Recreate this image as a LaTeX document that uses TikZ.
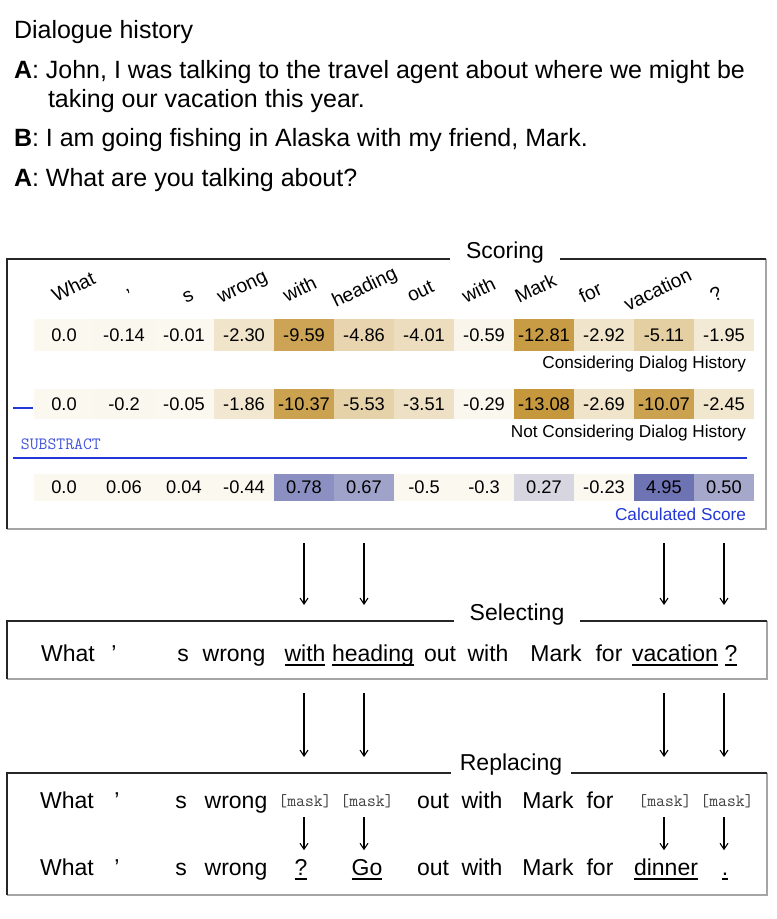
\documentclass[tikz,border=0pt]{standalone}
\usepackage{fontspec}
\setmainfont{Liberation Sans}
\usepackage{tikz}
\usetikzlibrary{arrows.meta}

\definecolor{gold}{RGB}{198,152,62}
\definecolor{cream}{RGB}{251,248,240}
\definecolor{slate}{RGB}{110,115,180}
\definecolor{subblue}{RGB}{35,55,215}
\definecolor{boxgray}{RGB}{165,165,165}

\begin{document}
\begin{tikzpicture}[
                x = 0.75pt,
                y = -0.75pt,
                every node/.style = {inner sep = 0pt, outer sep = 0pt},
                dialog/.style = {anchor = base west, font = \fontsize{18.75}{22}\selectfont},
                title/.style = {fill = white, inner xsep = 12pt, inner ysep = 1pt,
                    font = \fontsize{17.25}{20}\selectfont},
                head/.style = {anchor = base west, rotate = 26, font = \fontsize{14.6}{17}\selectfont},
                cell/.style = {minimum width = 45pt, minimum height = #1,
                    font = \fontsize{13.7}{16}\selectfont},
                cell/.default = 24pt,
                note/.style = {anchor = east, font = \fontsize{12.9}{15}\selectfont},
                word/.style = {anchor = base, text height = 12.6pt, text depth = 3.6pt,
                    font = \fontsize{17.25}{20}\selectfont},
                mask/.style = {anchor = base, text = black!75, text height = 8pt, text depth = 2.5pt,
                    font = \fontsize{12.9}{15}\ttfamily},
                flow/.style = {-{Straight Barb[length = 4.5pt, width = 6pt]}, line width = 0.8pt},
                uline/.style = {line width = 1pt},
                dark/.style = {line width = 1pt, black!85},
                light/.style = {line width = 1pt, boxgray}
            ]
            \path[use as bounding box, fill = white] (0,0) rectangle (776,919);
            %
            % dialogue history
            \node[dialog] (hist) at (14,39) {Dialogue history};
            \node[dialog] (turn1) at (14,79) {\textbf{A}: John, I was talking to the travel agent about where we might be};
            \node[dialog] (turn1b) at (48,108) {taking our vacation this year.};
            \node[dialog] (turn2) at (14,147) {\textbf{B}: I am going fishing in Alaska with my friend, Mark.};
            \node[dialog] (turn3) at (14,187) {\textbf{A}: What are you talking about?};
            %
            % scoring box
            \coordinate (sc-nw) at (7,259);
            \coordinate (sc-se) at (766,529);
            \draw[light] (sc-nw |- sc-se) -- (sc-se) -- (sc-se |- sc-nw);
            \draw[dark] (sc-nw |- sc-se) -- (sc-nw) -- (sc-se |- sc-nw);
            \node[title] (scoring) at (505,253) {Scoring};
            %
            \foreach \w/\x/\y [count=\i] in {What/56/303, ’/131/303, s/186/304, wrong/221/304,
                with/287/303, heading/336/308, out/411/303, with/466/304, Mark/519/304,
                for/583/304, vacation/628/312, ?/714/303}
                \node[head] (h\i) at (\x,\y) {\w};
            %
            \foreach \v/\p [count=\i] in {0.0/0, -0.14/1, -0.01/0, -2.30/21, -9.59/87, -4.86/36,
                -4.01/28, -0.59/3, -12.81/96, -2.92/21, -5.11/43, -1.95/15}
                \node[cell = 24pt, fill = gold!\p!cream] (r1-\i) at (4+60*\i,335) {\v};
            \node[note] (with-hist) at (746,364) {Considering Dialog History};
            %
            \foreach \v/\p [count=\i] in {0.0/0, -0.2/1, -0.05/0, -1.86/17, -10.37/90, -5.53/40,
                -3.51/25, -0.29/1, -13.08/100, -2.69/21, -10.07/90, -2.45/19}
                \node[cell = 22.5pt, fill = gold!\p!cream] (r2-\i) at (4+60*\i,404) {\v};
            \node[note] (no-hist) at (746,433) {Not Considering Dialog History};
            \draw[subblue, line width = 2.2pt] (13,408) -- (33,408);
            %
            \node[anchor = west, text = subblue!85, font = \fontsize{12.9}{15}\ttfamily] (sub) at (21,444) {SUBSTRACT};
            \draw[subblue, line width = 2pt] (13,458) -- (747,458);
            %
            \foreach \v/\p [count=\i] in {0.0/0, 0.06/0, 0.04/0, -0.44/0, 0.78/79, 0.67/65,
                -0.5/0, -0.3/0, 0.27/26, -0.23/0, 4.95/100, 0.50/61}
                \node[cell = 20.25pt, fill = slate!\p!cream] (r3-\i) at (4+60*\i,487.5) {\v};
            \node[note, text = subblue] (calc) at (746,514) {Calculated Score};
            %
            % selecting box
            \coordinate (se-nw) at (7,621);
            \coordinate (se-se) at (767,679);
            \draw[light] (se-nw |- se-se) -- (se-se) -- (se-se |- se-nw);
            \draw[dark] (se-nw |- se-se) -- (se-nw) -- (se-se |- se-nw);
            \node[title] (selecting) at (517,615) {Selecting};
            %
            \foreach \w/\x [count=\i] in {What/68, ’/114, s/183, wrong/234, with/305, heading/373,
                out/440, with/488, Mark/556, for/609, vacation/675, ?/731}
                \node[word] (sel\i) at (\x,661) {\w};
            \foreach \i in {5,6,11,12}
                \draw[uline] ([yshift=-3pt]sel\i.base west) -- ([yshift=-3pt]sel\i.base east);
            %
            % replacing box
            \coordinate (rp-nw) at (7,773);
            \coordinate (rp-se) at (767,895);
            \draw[light] (rp-nw |- rp-se) -- (rp-se) -- (rp-se |- rp-nw);
            \draw[dark] (rp-nw |- rp-se) -- (rp-nw) -- (rp-se |- rp-nw);
            \node[title, inner xsep = 7pt] (replacing) at (511,765) {Replacing};
            %
            \foreach \w/\x [count=\i] in {What/67, ’/117, s/181, wrong/236, out/433, with/482, Mark/548, for/600}
                \node[word] (old\i) at (\x,808) {\w};
            \foreach \x [count=\i] in {305,367,665,727}
                \node[mask] (mask\i) at (\x,806) {[mask]};
            %
            \foreach \w/\x [count=\i] in {What/67, ’/117, s/181, wrong/236, out/433, with/482, Mark/548, for/600}
                \node[word] (keep\i) at (\x,875) {\w};
            \foreach \w/\x [count=\i] in {?/301, Go/367, dinner/666, ./725}
                \node[word] (new\i) at (\x,875) {\w};
            \foreach \i in {1,...,4}
                \draw[uline] ([yshift=-3pt]new\i.base west) -- ([yshift=-3pt]new\i.base east);
            %
            % arrows
            \coordinate (gap1-top) at (0,543);
            \coordinate (gap1-bot) at (0,605);
            \coordinate (gap2-top) at (0,693);
            \coordinate (gap2-bot) at (0,757);
            \foreach \i/\j in {5/1, 6/2, 11/3, 12/4} {
                \draw[flow] (r3-\i |- gap1-top) -- (r3-\i |- gap1-bot);
                \draw[flow] (r3-\i |- gap2-top) -- (r3-\i |- gap2-bot);
                \draw[flow, shorten <= 6pt, shorten >= 6pt] (r3-\i |- mask\j.south) -- (r3-\i |- new\j.north);
            }
            %
        \end{tikzpicture}
\end{document}
